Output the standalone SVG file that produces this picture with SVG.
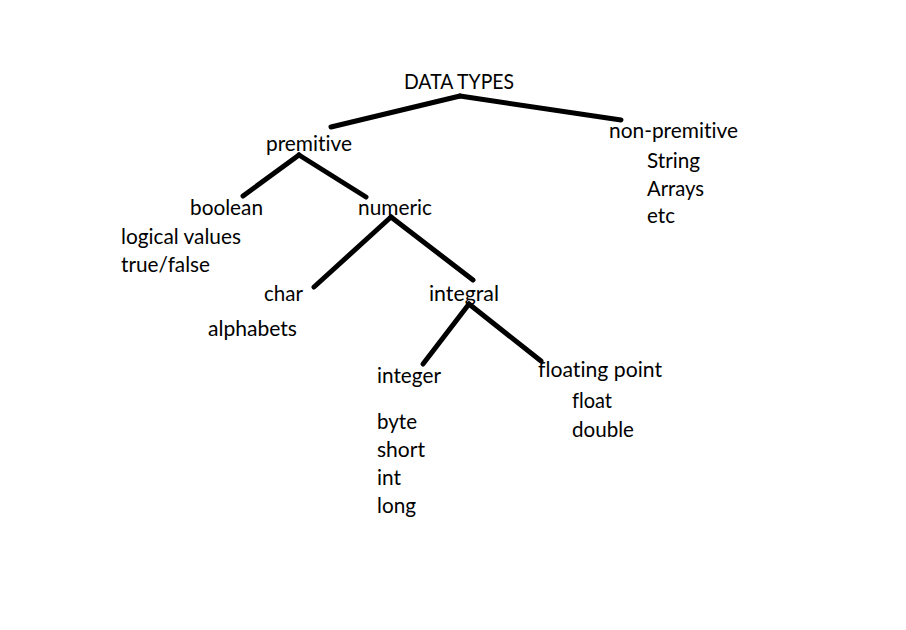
<svg xmlns="http://www.w3.org/2000/svg" width="906" height="630" viewBox="0 0 906 630">
<style>
text{font-family:Lato,"Open Sans","Liberation Sans",sans-serif;font-size:20.5px;fill:#000;font-variant-ligatures:none;font-feature-settings:"liga" 0,"clig" 0}
.c line{stroke:#000;stroke-width:5;stroke-linecap:round}
</style>
<rect width="906" height="630" fill="#fff"/>
<g class="c" id="connectors">
<line x1="331" y1="127" x2="460" y2="96"/>
<line x1="460" y1="96" x2="621" y2="120"/>
<line x1="299" y1="155" x2="243" y2="196"/>
<line x1="299" y1="155" x2="366" y2="197"/>
<line x1="391" y1="217" x2="314" y2="287"/>
<line x1="391" y1="217" x2="473" y2="280"/>
<line x1="469" y1="304" x2="423" y2="364"/>
<line x1="469" y1="304" x2="541" y2="361"/>
</g>
<g id="data-types"><text x="404" y="89" textLength="110" lengthAdjust="spacingAndGlyphs">DATA TYPES</text></g>
<g id="premitive"><text x="266" y="151" textLength="86" lengthAdjust="spacingAndGlyphs">premitive</text></g>
<g id="non-premitive">
<text x="609" y="138" textLength="129" lengthAdjust="spacingAndGlyphs">non-premitive</text>
<text x="647" y="168" textLength="53" lengthAdjust="spacingAndGlyphs">String</text>
<text x="647" y="196" textLength="57" lengthAdjust="spacingAndGlyphs">Arrays</text>
<text x="647" y="223" textLength="28" lengthAdjust="spacingAndGlyphs">etc</text>
</g>
<g id="boolean">
<text x="190" y="215" textLength="73" lengthAdjust="spacingAndGlyphs">boolean</text>
<text x="121" y="244" textLength="120" lengthAdjust="spacingAndGlyphs">logical values</text>
<text x="121" y="272" textLength="89" lengthAdjust="spacingAndGlyphs">true/false</text>
</g>
<g id="numeric"><text x="358" y="215" textLength="74" lengthAdjust="spacingAndGlyphs">numeric</text></g>
<g id="char">
<text x="264" y="301" textLength="39" lengthAdjust="spacingAndGlyphs">char</text>
<text x="208" y="336" textLength="89" lengthAdjust="spacingAndGlyphs">alphabets</text>
</g>
<g id="integral"><text x="429" y="301" textLength="70" lengthAdjust="spacingAndGlyphs">integral</text></g>
<g id="integer">
<text x="377" y="383" textLength="64" lengthAdjust="spacingAndGlyphs">integer</text>
<text x="377" y="429" textLength="40" lengthAdjust="spacingAndGlyphs">byte</text>
<text x="377" y="457" textLength="48" lengthAdjust="spacingAndGlyphs">short</text>
<text x="377" y="485" textLength="24" lengthAdjust="spacingAndGlyphs">int</text>
<text x="377" y="513" textLength="39" lengthAdjust="spacingAndGlyphs">long</text>
</g>
<g id="floating-point">
<text x="538" y="377" textLength="124" lengthAdjust="spacingAndGlyphs">floating point</text>
<text x="572" y="408" textLength="40" lengthAdjust="spacingAndGlyphs">float</text>
<text x="572" y="437" textLength="62" lengthAdjust="spacingAndGlyphs">double</text>
</g>
</svg>
